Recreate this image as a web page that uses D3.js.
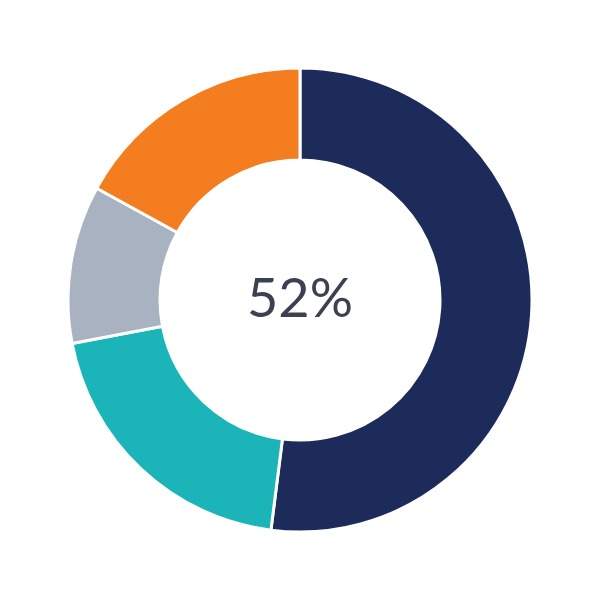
<!DOCTYPE html>
<html><head><meta charset="utf-8">
<script src="https://cdn.jsdelivr.net/npm/d3@7"></script>
<style>html,body{margin:0;padding:0;background:#fff;}</style>
</head><body>
<svg id="chart" width="600" height="600"></svg>
<script>
const categories = ["A", "B", "C", "D"];
const values = [52, 20, 11, 17];
const colors = ["#1c2b5a", "#1bb5b9", "#a9b2c0", "#f47d20"];
const centerLabel = "52%";

const svg = d3.select("#chart");
const g = svg.append("g").attr("transform", "translate(300,300)");
const pie = d3.pie().sort(null).value(d => d.v);
const arc = d3.arc().innerRadius(140).outerRadius(232);
const data = categories.map((c, i) => ({c, v: values[i]}));
g.selectAll("path").data(pie(data)).join("path")
  .attr("d", arc)
  .attr("fill", (d, i) => colors[i])
  .attr("stroke", "#fff").attr("stroke-width", 3);
g.append("text").text(centerLabel)
  .attr("text-anchor", "middle").attr("y", 17)
  .attr("font-family", "Lato").attr("font-weight", 400)
  .attr("font-size", 54).attr("fill", "#3b4150");
</script>
</body></html>
